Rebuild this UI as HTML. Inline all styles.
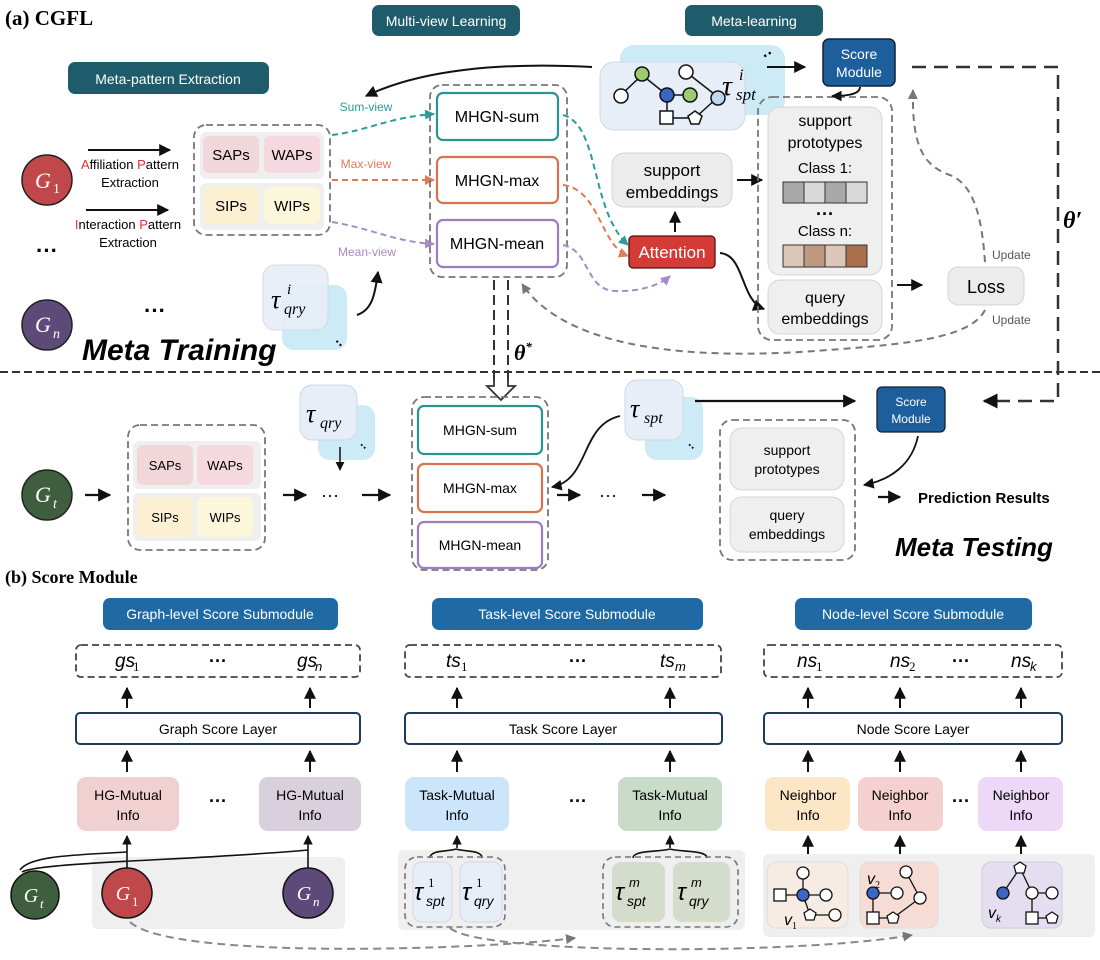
<!DOCTYPE html>
<html><head><meta charset="utf-8"><style>
html,body{margin:0;padding:0;background:#fff}
svg{display:block}
text{font-family:"Liberation Sans",sans-serif}
.m{font-family:"Liberation Serif",serif;font-style:italic}
.n{font-family:"Liberation Serif",serif;font-style:normal}
</style></head><body>
<svg width="1100" height="960" viewBox="0 0 1100 960" xmlns="http://www.w3.org/2000/svg">
<defs>
<marker id="a" viewBox="0 0 10 10" refX="9" refY="5" markerWidth="6" markerHeight="6" orient="auto"><path d="M0,0L10,5L0,10z" fill="#111"/></marker>
<marker id="ag" viewBox="0 0 10 10" refX="9" refY="5" markerWidth="5" markerHeight="5" orient="auto"><path d="M0,0L10,5L0,10z" fill="#777"/></marker>
<marker id="at" viewBox="0 0 10 10" refX="9" refY="5" markerWidth="5" markerHeight="5" orient="auto"><path d="M0,0L10,5L0,10z" fill="#2a9d9a"/></marker>
<marker id="ao" viewBox="0 0 10 10" refX="9" refY="5" markerWidth="5" markerHeight="5" orient="auto"><path d="M0,0L10,5L0,10z" fill="#e07b5a"/></marker>
<marker id="ap" viewBox="0 0 10 10" refX="9" refY="5" markerWidth="5" markerHeight="5" orient="auto"><path d="M0,0L10,5L0,10z" fill="#a58cc8"/></marker>
</defs>

<text x="5" y="25" font-weight="bold" font-size="21" style="font-family:'Liberation Serif',serif">(a) CGFL</text>
<rect x="372" y="5" width="148" height="31" rx="7" fill="#1f5c6b"/>
<text x="446" y="26" fill="#fff" font-size="14" text-anchor="middle">Multi-view Learning</text>
<rect x="685" y="5" width="138" height="31" rx="7" fill="#1f5c6b"/>
<text x="754" y="26" fill="#fff" font-size="14" text-anchor="middle">Meta-learning</text>
<rect x="68" y="62" width="201" height="32" rx="7" fill="#1f5c6b"/>
<text x="168" y="84" fill="#fff" font-size="14" text-anchor="middle">Meta-pattern Extraction</text>

<circle cx="47" cy="180" r="25" fill="#c0474a" stroke="#222" stroke-width="1.5"/>
<text x="43" y="188" class="m" font-size="22" fill="#fff" text-anchor="middle">G</text><text x="53" y="193" class="n" font-size="14" fill="#fff">1</text>
<circle cx="47" cy="325" r="25" fill="#5e4a78" stroke="#222" stroke-width="1.5"/>
<text x="43" y="332" class="m" font-size="22" fill="#fff" text-anchor="middle">G</text><text x="53" y="338" class="m" font-size="14" fill="#fff">n</text>
<text x="47" y="258" font-size="22" text-anchor="middle" font-weight="bold">···</text>
<text x="155" y="318" font-size="22" text-anchor="middle" font-weight="bold">···</text>

<line x1="88" y1="150" x2="170" y2="150" stroke="#111" stroke-width="2" marker-end="url(#a)"/>
<line x1="86" y1="210" x2="168" y2="210" stroke="#111" stroke-width="2" marker-end="url(#a)"/>
<text x="130" y="169" font-size="13" text-anchor="middle"><tspan fill="#d33">A</tspan>ffiliation <tspan fill="#d33">P</tspan>attern</text>
<text x="130" y="187" font-size="13" text-anchor="middle">Extraction</text>
<text x="128" y="229" font-size="13" text-anchor="middle"><tspan fill="#d33">I</tspan>nteraction <tspan fill="#d33">P</tspan>attern</text>
<text x="128" y="247" font-size="13" text-anchor="middle">Extraction</text>

<rect x="194" y="125" width="136" height="110" rx="12" fill="none" stroke="#777" stroke-width="1.8" stroke-dasharray="7,4"/>
<rect x="200" y="132" width="124" height="47" rx="6" fill="#efefef"/>
<rect x="200" y="183" width="124" height="47" rx="6" fill="#efefef"/>
<rect x="203" y="136" width="56" height="37" rx="6" fill="#f2d7da"/>
<rect x="264" y="136" width="56" height="37" rx="6" fill="#f5d8e0"/>
<rect x="203" y="187" width="56" height="37" rx="6" fill="#fbf0d2"/>
<rect x="264" y="187" width="56" height="37" rx="6" fill="#fcf6da"/>
<text x="231" y="160" font-size="15" text-anchor="middle">SAPs</text>
<text x="292" y="160" font-size="15" text-anchor="middle">WAPs</text>
<text x="231" y="211" font-size="15" text-anchor="middle">SIPs</text>
<text x="292" y="211" font-size="15" text-anchor="middle">WIPs</text>

<text x="366" y="111" font-size="12" fill="#2a9d9a" text-anchor="middle">Sum-view</text>
<text x="366" y="168" font-size="12" fill="#e07b5a" text-anchor="middle">Max-view</text>
<text x="367" y="256" font-size="12" fill="#a58cc8" text-anchor="middle">Mean-view</text>
<path d="M332,135 C370,130 390,117 434,114" fill="none" stroke="#2a9d9a" stroke-width="2" stroke-dasharray="6,4" marker-end="url(#at)"/>
<path d="M332,180 L434,180" fill="none" stroke="#e07b5a" stroke-width="2" stroke-dasharray="6,4" marker-end="url(#ao)"/>
<path d="M332,222 C370,228 395,242 434,244" fill="none" stroke="#a58cc8" stroke-width="2" stroke-dasharray="6,4" marker-end="url(#ap)"/>

<rect x="430" y="85" width="137" height="192" rx="12" fill="none" stroke="#777" stroke-width="1.8" stroke-dasharray="7,4"/>
<rect x="437" y="93" width="121" height="47" rx="6" fill="#fff" stroke="#2a9590" stroke-width="2.2"/>
<rect x="437" y="157" width="121" height="46" rx="6" fill="#fff" stroke="#d9734f" stroke-width="2.2"/>
<rect x="437" y="220" width="121" height="47" rx="6" fill="#fff" stroke="#9a7fc0" stroke-width="2.2"/>
<text x="497" y="122" font-size="16" text-anchor="middle">MHGN-sum</text>
<text x="497" y="186" font-size="16" text-anchor="middle">MHGN-max</text>
<text x="497" y="249" font-size="16" text-anchor="middle">MHGN-mean</text>

<path d="M563,115 C600,125 590,210 628,245" fill="none" stroke="#2a9d9a" stroke-width="2" stroke-dasharray="6,4" marker-end="url(#at)"/>
<path d="M563,185 C600,190 600,245 628,256" fill="none" stroke="#e07b5a" stroke-width="2" stroke-dasharray="6,4" marker-end="url(#ao)"/>
<path d="M563,245 C590,250 585,290 615,291 C640,292 660,285 670,276" fill="none" stroke="#a58cc8" stroke-width="2" stroke-dasharray="6,4" marker-end="url(#ap)"/>

<rect x="282" y="285" width="65" height="65" rx="12" fill="#cdeaf7"/>
<rect x="263" y="265" width="65" height="65" rx="12" fill="#e8eef8" stroke="#d0d8e4" opacity="0.92"/>
<text x="271" y="308" class="m" font-size="26">τ</text>
<text x="287" y="294" class="m" font-size="15">i</text>
<text x="284" y="314" class="m" font-size="16">qry</text>
<text x="336" y="345" font-size="14" font-weight="bold" transform="rotate(45 336 340)">··</text>
<path d="M357,315 C372,310 375,295 378,272" fill="none" stroke="#111" stroke-width="2" marker-end="url(#a)"/>

<text x="82" y="360" font-size="30" font-weight="bold" font-style="italic">Meta Training</text>

<line x1="494" y1="280" x2="494" y2="380" stroke="#333" stroke-width="2" stroke-dasharray="10,5"/>
<line x1="508" y1="280" x2="508" y2="380" stroke="#333" stroke-width="2" stroke-dasharray="10,5"/>
<text x="514" y="360" font-size="22" font-weight="bold" font-style="italic" style="font-family:'Liberation Serif',serif">θ<tspan font-size="13" dy="-9">*</tspan></text>

<rect x="620" y="45" width="165" height="70" rx="14" fill="#cdeaf7"/>
<rect x="600" y="62" width="145" height="68" rx="14" fill="#e8eef8" stroke="#d0d8e4"/>
<text x="765" y="58" font-size="16" font-weight="bold" transform="rotate(-30 772 58)">··</text>
<g stroke="#111" stroke-width="1.5">
<line x1="621" y1="95" x2="642" y2="75"/><line x1="642" y1="75" x2="667" y2="95"/><line x1="667" y1="95" x2="690" y2="95"/>
<line x1="686" y1="72" x2="718" y2="97"/><line x1="667" y1="95" x2="667" y2="118"/><line x1="667" y1="118" x2="695" y2="118"/><line x1="695" y1="118" x2="718" y2="97"/>
<circle cx="621" cy="96" r="7" fill="#fff"/><circle cx="642" cy="74" r="7" fill="#9ccb72"/>
<circle cx="686" cy="72" r="7" fill="#fff"/><circle cx="667" cy="95" r="7" fill="#3a66c4"/>
<circle cx="690" cy="95" r="7" fill="#9ccb72"/><circle cx="718" cy="98" r="7" fill="#bdd9ef"/>
<rect x="660" y="111" width="13" height="13" fill="#fff"/>
<path d="M695,111 L702,116 L699,124 L691,124 L688,116 Z" fill="#fff"/>
</g>
<text x="722" y="95" class="m" font-size="28">τ</text>
<text x="739" y="80" class="m" font-size="16">i</text>
<text x="736" y="100" class="m" font-size="17">spt</text>
<path d="M592,67 C500,62 420,70 366,96" fill="none" stroke="#111" stroke-width="2" marker-end="url(#a)"/>
<line x1="767" y1="67" x2="805" y2="67" stroke="#111" stroke-width="2" marker-end="url(#a)"/>

<rect x="823" y="39" width="72" height="47" rx="6" fill="#1d5f9c" stroke="#123" stroke-width="1.5"/>
<text x="859" y="59" fill="#fff" font-size="14" text-anchor="middle">Score</text>
<text x="859" y="77" fill="#fff" font-size="14" text-anchor="middle">Module</text>
<path d="M912,67 L1058,67 L1058,401 L984,401" fill="none" stroke="#333" stroke-width="2.5" stroke-dasharray="14,8" marker-end="url(#a)"/>
<text x="1063" y="228" font-size="24" font-weight="bold" font-style="italic" style="font-family:'Liberation Serif',serif">θ′</text>

<rect x="612" y="153" width="120" height="54" rx="12" fill="#ececec" stroke="#d4d4d4"/>
<text x="672" y="176" font-size="17" text-anchor="middle">support</text>
<text x="672" y="198" font-size="17" text-anchor="middle">embeddings</text>
<rect x="629" y="236" width="86" height="32" rx="4" fill="#d43b37" stroke="#511" stroke-width="1.3"/>
<text x="672" y="258" font-size="17" fill="#fff" text-anchor="middle">Attention</text>
<line x1="675" y1="232" x2="675" y2="212" stroke="#111" stroke-width="2" marker-end="url(#a)"/>
<line x1="737" y1="180" x2="762" y2="180" stroke="#111" stroke-width="2" marker-end="url(#a)"/>
<path d="M720,253 C745,255 740,300 764,309" fill="none" stroke="#111" stroke-width="2" marker-end="url(#a)"/>

<rect x="758" y="97" width="134" height="243" rx="14" fill="none" stroke="#777" stroke-width="1.8" stroke-dasharray="7,4"/>
<rect x="768" y="107" width="114" height="168" rx="12" fill="#efefef" stroke="#d6d6d6"/>
<text x="825" y="126" font-size="16" text-anchor="middle">support</text>
<text x="825" y="148" font-size="16" text-anchor="middle">prototypes</text>
<text x="825" y="173" font-size="15" text-anchor="middle">Class 1:</text>
<g stroke="#333" stroke-width="1">
<rect x="783" y="182" width="21" height="21" fill="#a9a9a9"/><rect x="804" y="182" width="21" height="21" fill="#d9d9d9"/>
<rect x="825" y="182" width="21" height="21" fill="#a9a9a9"/><rect x="846" y="182" width="21" height="21" fill="#d9d9d9"/>
<rect x="783" y="245" width="21" height="22" fill="#dcc6b8"/><rect x="804" y="245" width="21" height="22" fill="#c09a80"/>
<rect x="825" y="245" width="21" height="22" fill="#dcc6b8"/><rect x="846" y="245" width="21" height="22" fill="#a86f4a"/>
</g>
<text x="825" y="220" font-size="18" font-weight="bold" text-anchor="middle">···</text>
<text x="825" y="236" font-size="15" text-anchor="middle">Class n:</text>
<rect x="768" y="280" width="114" height="54" rx="12" fill="#efefef" stroke="#d6d6d6"/>
<text x="825" y="303" font-size="16" text-anchor="middle">query</text>
<text x="825" y="324" font-size="16" text-anchor="middle">embeddings</text>
<line x1="897" y1="285" x2="922" y2="285" stroke="#111" stroke-width="2" marker-end="url(#a)"/>
<rect x="948" y="267" width="76" height="38" rx="10" fill="#ececec" stroke="#d4d4d4"/>
<text x="986" y="293" font-size="18" text-anchor="middle">Loss</text>
<text x="992" y="259" font-size="12" fill="#555">Update</text>
<text x="992" y="324" font-size="12" fill="#555">Update</text>
<path d="M985,262 C982,220 975,185 950,175 C920,165 912,140 913,90" fill="none" stroke="#777" stroke-width="2" stroke-dasharray="7,5" marker-end="url(#ag)"/>
<path d="M985,310 C970,340 900,345 800,352 C660,360 560,340 522,284" fill="none" stroke="#777" stroke-width="2" stroke-dasharray="7,5" marker-end="url(#ag)"/>
<path d="M860,87 C860,95 845,96 832,96" fill="none" stroke="#111" stroke-width="1.8" marker-end="url(#a)"/>

<line x1="0" y1="372" x2="1100" y2="372" stroke="#333" stroke-width="2" stroke-dasharray="8,4"/>

<path d="M494,380 L494,386 L487,386 L501,400 L515,386 L508,386 L508,380" fill="#fff" stroke="#333" stroke-width="1.8"/>
<circle cx="47" cy="495" r="25" fill="#3e5e3e" stroke="#222" stroke-width="1.5"/>
<text x="43" y="502" class="m" font-size="22" fill="#fff" text-anchor="middle">G</text><text x="53" y="508" class="m" font-size="14" fill="#fff">t</text>
<line x1="85" y1="495" x2="110" y2="495" stroke="#111" stroke-width="2.2" marker-end="url(#a)"/>
<rect x="128" y="425" width="137" height="125" rx="12" fill="none" stroke="#777" stroke-width="1.8" stroke-dasharray="7,4"/>
<rect x="133" y="441" width="128" height="48" rx="6" fill="#efefef"/>
<rect x="133" y="493" width="128" height="48" rx="6" fill="#efefef"/>
<rect x="137" y="445" width="56" height="40" rx="6" fill="#f2d7da"/>
<rect x="197" y="445" width="56" height="40" rx="6" fill="#f5d8e0"/>
<rect x="137" y="497" width="56" height="40" rx="6" fill="#fbf0d2"/>
<rect x="197" y="497" width="56" height="40" rx="6" fill="#fcf6da"/>
<text x="165" y="470" font-size="13" text-anchor="middle">SAPs</text>
<text x="225" y="470" font-size="13" text-anchor="middle">WAPs</text>
<text x="165" y="522" font-size="13" text-anchor="middle">SIPs</text>
<text x="225" y="522" font-size="13" text-anchor="middle">WIPs</text>
<line x1="283" y1="495" x2="306" y2="495" stroke="#111" stroke-width="2.2" marker-end="url(#a)"/>
<text x="330" y="501" font-size="18" text-anchor="middle">···</text>
<line x1="362" y1="495" x2="390" y2="495" stroke="#111" stroke-width="2.2" marker-end="url(#a)"/>
<rect x="318" y="405" width="57" height="55" rx="12" fill="#cdeaf7"/>
<rect x="300" y="385" width="57" height="55" rx="12" fill="#e8eef8" stroke="#d0d8e4"/>
<text x="306" y="422" class="m" font-size="26">τ</text>
<text x="320" y="428" class="m" font-size="16">qry</text>
<text x="358" y="450" font-size="12" font-weight="bold" transform="rotate(45 362 448)">··</text>
<line x1="340" y1="447" x2="340" y2="470" stroke="#111" stroke-width="1.5" marker-end="url(#a)"/>

<rect x="412" y="397" width="136" height="173" rx="12" fill="none" stroke="#777" stroke-width="1.8" stroke-dasharray="7,4"/>
<rect x="418" y="406" width="124" height="48" rx="6" fill="#fff" stroke="#2a9590" stroke-width="2.2"/>
<rect x="418" y="464" width="124" height="48" rx="6" fill="#fff" stroke="#d9734f" stroke-width="2.2"/>
<rect x="418" y="522" width="124" height="46" rx="6" fill="#fff" stroke="#9a7fc0" stroke-width="2.2"/>
<text x="480" y="435" font-size="14" text-anchor="middle">MHGN-sum</text>
<text x="480" y="493" font-size="14" text-anchor="middle">MHGN-max</text>
<text x="480" y="550" font-size="14" text-anchor="middle">MHGN-mean</text>

<line x1="557" y1="495" x2="580" y2="495" stroke="#111" stroke-width="2.2" marker-end="url(#a)"/>
<text x="608" y="501" font-size="18" text-anchor="middle">···</text>
<line x1="642" y1="495" x2="665" y2="495" stroke="#111" stroke-width="2.2" marker-end="url(#a)"/>
<rect x="645" y="397" width="58" height="63" rx="12" fill="#cdeaf7"/>
<rect x="625" y="380" width="58" height="60" rx="12" fill="#e8eef8" stroke="#d0d8e4"/>
<text x="630" y="417" class="m" font-size="26">τ</text>
<text x="644" y="423" class="m" font-size="16">spt</text>
<text x="686" y="450" font-size="12" font-weight="bold" transform="rotate(45 690 448)">··</text>
<path d="M620,416 C580,425 590,480 552,487" fill="none" stroke="#111" stroke-width="1.8" marker-end="url(#a)"/>
<line x1="695" y1="401" x2="855" y2="401" stroke="#111" stroke-width="2.2" marker-end="url(#a)"/>
<rect x="877" y="387" width="68" height="45" rx="5" fill="#1d5f9c" stroke="#123" stroke-width="1.3"/>
<text x="911" y="406" fill="#fff" font-size="12" text-anchor="middle">Score</text>
<text x="911" y="423" fill="#fff" font-size="12" text-anchor="middle">Module</text>
<rect x="720" y="420" width="135" height="140" rx="12" fill="none" stroke="#777" stroke-width="1.8" stroke-dasharray="7,4"/>
<rect x="730" y="428" width="114" height="62" rx="12" fill="#efefef" stroke="#d6d6d6"/>
<text x="787" y="455" font-size="14" text-anchor="middle">support</text>
<text x="787" y="474" font-size="14" text-anchor="middle">prototypes</text>
<rect x="730" y="497" width="114" height="55" rx="12" fill="#efefef" stroke="#d6d6d6"/>
<text x="787" y="520" font-size="14" text-anchor="middle">query</text>
<text x="787" y="539" font-size="14" text-anchor="middle">embeddings</text>
<path d="M918,436 C912,465 890,480 864,485" fill="none" stroke="#111" stroke-width="1.8" marker-end="url(#a)"/>
<line x1="878" y1="497" x2="900" y2="497" stroke="#111" stroke-width="2.2" marker-end="url(#a)"/>
<text x="918" y="503" font-size="15" font-weight="bold">Prediction Results</text>
<text x="895" y="556" font-size="26" font-weight="bold" font-style="italic">Meta Testing</text>

<text x="5" y="583" font-weight="bold" font-size="18" style="font-family:'Liberation Serif',serif">(b) Score Module</text>
<rect x="103" y="598" width="235" height="32" rx="7" fill="#1f6aa5"/>
<text x="220" y="619" fill="#fff" font-size="14" text-anchor="middle">Graph-level Score Submodule</text>
<rect x="432" y="598" width="271" height="32" rx="7" fill="#1f6aa5"/>
<text x="567" y="619" fill="#fff" font-size="14" text-anchor="middle">Task-level Score Submodule</text>
<rect x="795" y="598" width="237" height="32" rx="7" fill="#1f6aa5"/>
<text x="913" y="619" fill="#fff" font-size="14" text-anchor="middle">Node-level Score Submodule</text>

<g fill="none" stroke="#444" stroke-width="1.8" stroke-dasharray="7,4">
<rect x="76" y="645" width="284" height="32" rx="5"/>
<rect x="405" y="645" width="316" height="32" rx="5"/>
<rect x="764" y="645" width="298" height="32" rx="5"/>
</g>
<g class="m" font-size="19">
<text x="115" y="667">gs</text><text x="133" y="671" class="n" font-size="13">1</text>
<text x="297" y="667">gs</text><text x="315" y="671" font-size="13">n</text>
<text x="446" y="667">ts</text><text x="461" y="671" class="n" font-size="13">1</text>
<text x="660" y="667">ts</text><text x="675" y="671" font-size="13">m</text>
<text x="797" y="667">ns</text><text x="816" y="671" class="n" font-size="13">1</text>
<text x="890" y="667">ns</text><text x="909" y="671" class="n" font-size="13">2</text>
<text x="1011" y="667">ns</text><text x="1030" y="671" font-size="13">k</text>
</g>
<g font-size="18" font-weight="bold" text-anchor="middle">
<text x="218" y="667">···</text><text x="578" y="667">···</text><text x="961" y="667">···</text>
<text x="218" y="807">···</text><text x="578" y="807">···</text><text x="961" y="807">···</text>
<text x="218" y="898">···</text><text x="578" y="898">···</text><text x="961" y="898">···</text>
</g>
<g stroke="#111" stroke-width="2" marker-end="url(#a)">
<line x1="127" y1="708" x2="127" y2="688"/><line x1="310" y1="708" x2="310" y2="688"/>
<line x1="457" y1="708" x2="457" y2="688"/><line x1="670" y1="708" x2="670" y2="688"/>
<line x1="808" y1="708" x2="808" y2="688"/><line x1="900" y1="708" x2="900" y2="688"/><line x1="1021" y1="708" x2="1021" y2="688"/>
<line x1="127" y1="772" x2="127" y2="751"/><line x1="310" y1="772" x2="310" y2="751"/>
<line x1="457" y1="772" x2="457" y2="751"/><line x1="670" y1="772" x2="670" y2="751"/>
<line x1="808" y1="772" x2="808" y2="751"/><line x1="900" y1="772" x2="900" y2="751"/><line x1="1021" y1="772" x2="1021" y2="751"/>
<line x1="808" y1="855" x2="808" y2="836"/><line x1="900" y1="855" x2="900" y2="836"/><line x1="1021" y1="855" x2="1021" y2="836"/>
</g>
<g fill="#fff" stroke="#1d3c5e" stroke-width="2">
<rect x="76" y="713" width="284" height="31" rx="4"/>
<rect x="405" y="713" width="317" height="31" rx="4"/>
<rect x="764" y="713" width="298" height="31" rx="4"/>
</g>
<text x="218" y="734" font-size="14" text-anchor="middle">Graph Score Layer</text>
<text x="563" y="734" font-size="14" text-anchor="middle">Task Score Layer</text>
<text x="913" y="734" font-size="14" text-anchor="middle">Node Score Layer</text>

<rect x="77" y="777" width="102" height="54" rx="9" fill="#f0d0d0"/>
<rect x="259" y="777" width="102" height="54" rx="9" fill="#d8d0dc"/>
<rect x="405" y="777" width="104" height="54" rx="9" fill="#cce5fa"/>
<rect x="618" y="777" width="104" height="54" rx="9" fill="#c8dcc8"/>
<rect x="765" y="777" width="85" height="54" rx="9" fill="#fbe6c6"/>
<rect x="858" y="777" width="85" height="54" rx="9" fill="#f5d0d0"/>
<rect x="978" y="777" width="85" height="54" rx="9" fill="#eed8f8"/>
<g font-size="14" text-anchor="middle">
<text x="128" y="800">HG-Mutual</text><text x="128" y="820">Info</text>
<text x="310" y="800">HG-Mutual</text><text x="310" y="820">Info</text>
<text x="457" y="800">Task-Mutual</text><text x="457" y="820">Info</text>
<text x="670" y="800">Task-Mutual</text><text x="670" y="820">Info</text>
<text x="808" y="800">Neighbor</text><text x="808" y="820">Info</text>
<text x="900" y="800">Neighbor</text><text x="900" y="820">Info</text>
<text x="1021" y="800">Neighbor</text><text x="1021" y="820">Info</text>
</g>

<rect x="92" y="857" width="253" height="72" rx="6" fill="#efefef"/>
<rect x="398" y="850" width="347" height="80" rx="6" fill="#efefef"/>
<rect x="763" y="854" width="332" height="83" rx="6" fill="#efefef"/>

<g stroke="#111" stroke-width="1.6" fill="none">
<line x1="127" y1="868" x2="127" y2="836" marker-end="url(#a)"/>
<line x1="308" y1="868" x2="308" y2="836" marker-end="url(#a)"/>
<path d="M20,870 C30,855 80,855 127,852"/>
<path d="M22,872 C40,862 200,860 308,850"/>
</g>
<circle cx="35" cy="895" r="24" fill="#3e5e3e" stroke="#111" stroke-width="1.5"/>
<text x="31" y="902" class="m" font-size="20" fill="#fff" text-anchor="middle">G</text><text x="40" y="908" class="m" font-size="13" fill="#fff">t</text>
<circle cx="127" cy="893" r="25" fill="#c0474a" stroke="#111" stroke-width="1.5"/>
<text x="123" y="900" class="m" font-size="20" fill="#fff" text-anchor="middle">G</text><text x="132" y="906" class="n" font-size="13" fill="#fff">1</text>
<circle cx="308" cy="893" r="25" fill="#5e4a78" stroke="#111" stroke-width="1.5"/>
<text x="304" y="900" class="m" font-size="20" fill="#fff" text-anchor="middle">G</text><text x="313" y="906" class="m" font-size="13" fill="#fff">n</text>

<g stroke="#111" stroke-width="1.6" fill="none">
<path d="M430,858 C430,850 446,852 456,849 M456,849 C466,852 482,850 482,858"/>
<line x1="457" y1="848" x2="457" y2="836" marker-end="url(#a)"/>
<path d="M633,858 C633,850 660,852 670,849 M670,849 C680,852 707,850 707,858"/>
<line x1="670" y1="848" x2="670" y2="836" marker-end="url(#a)"/>
</g>
<rect x="405" y="857" width="100" height="70" rx="12" fill="none" stroke="#777" stroke-width="1.6" stroke-dasharray="6,4"/>
<rect x="603" y="857" width="135" height="70" rx="12" fill="none" stroke="#777" stroke-width="1.6" stroke-dasharray="6,4"/>
<rect x="413" y="862" width="39" height="60" rx="9" fill="#e8eef8" stroke="#d0d8e4"/>
<rect x="460" y="862" width="42" height="60" rx="9" fill="#e8eef8" stroke="#d0d8e4"/>
<rect x="612" y="862" width="53" height="60" rx="9" fill="#d4dccb"/>
<rect x="673" y="862" width="57" height="60" rx="9" fill="#d4dccb"/>
<g class="m">
<text x="414" y="900" font-size="24">τ</text><text x="428" y="887" class="n" font-size="13">1</text><text x="426" y="906" font-size="14">spt</text>
<text x="462" y="900" font-size="24">τ</text><text x="476" y="887" class="n" font-size="13">1</text><text x="474" y="906" font-size="14">qry</text>
<text x="615" y="900" font-size="24">τ</text><text x="629" y="887" font-size="13">m</text><text x="627" y="906" font-size="14">spt</text>
<text x="677" y="900" font-size="24">τ</text><text x="691" y="887" font-size="13">m</text><text x="689" y="906" font-size="14">qry</text>
</g>

<rect x="767" y="862" width="81" height="66" rx="9" fill="#f6ece4" stroke="#ddd"/>
<rect x="860" y="862" width="78" height="66" rx="9" fill="#f6dcd4" stroke="#ddd"/>
<rect x="982" y="862" width="80" height="66" rx="9" fill="#e4def0" stroke="#ccd"/>
<g stroke="#111" stroke-width="1.3" fill="#fff">
<line x1="800" y1="895" x2="780" y2="895"/><line x1="803" y1="875" x2="803" y2="895"/><line x1="803" y1="895" x2="826" y2="895"/><line x1="803" y1="895" x2="810" y2="915"/><line x1="810" y1="915" x2="835" y2="915"/>
<circle cx="803" cy="873" r="6"/><rect x="774" y="889" width="12" height="12"/><circle cx="826" cy="895" r="6"/><circle cx="835" cy="915" r="6"/>
<path d="M810,909 L816,913 L814,920 L806,920 L804,913Z"/><circle cx="803" cy="895" r="6" fill="#3a66c4"/>
<line x1="873" y1="893" x2="897" y2="893"/><line x1="873" y1="893" x2="873" y2="918"/><line x1="873" y1="918" x2="893" y2="918"/><line x1="893" y1="918" x2="920" y2="898"/><line x1="920" y1="898" x2="906" y2="872"/>
<circle cx="906" cy="872" r="6"/><circle cx="897" cy="893" r="6"/><circle cx="920" cy="898" r="6"/><rect x="867" y="912" width="12" height="12"/>
<path d="M893,912 L899,916 L897,923 L889,923 L887,916Z"/><circle cx="873" cy="893" r="6" fill="#3a66c4"/>
<line x1="1003" y1="893" x2="1020" y2="868"/><line x1="1020" y1="868" x2="1032" y2="893"/><line x1="1032" y1="893" x2="1052" y2="893"/><line x1="1032" y1="893" x2="1032" y2="918"/><line x1="1032" y1="918" x2="1050" y2="918"/>
<path d="M1020,862 L1026,866 L1024,873 L1016,873 L1014,866Z"/><circle cx="1032" cy="893" r="6"/><circle cx="1052" cy="893" r="6"/><rect x="1026" y="912" width="12" height="12"/>
<path d="M1052,912 L1058,916 L1056,923 L1048,923 L1046,916Z"/><circle cx="1003" cy="893" r="6" fill="#3a66c4"/>
</g>
<g class="m" font-size="16">
<text x="784" y="925">v</text><text x="792" y="929" class="n" font-size="10">1</text>
<text x="867" y="884">v</text><text x="875" y="888" class="n" font-size="10">2</text>
<text x="988" y="918">v</text><text x="996" y="922" font-size="10">k</text>
</g>

<path d="M130,922 C170,960 480,950 575,938" fill="none" stroke="#888" stroke-width="2" stroke-dasharray="8,5" marker-end="url(#ag)"/>
<path d="M450,928 C480,955 800,955 912,935" fill="none" stroke="#888" stroke-width="2" stroke-dasharray="8,5" marker-end="url(#ag)"/>
</svg>
</body></html>
